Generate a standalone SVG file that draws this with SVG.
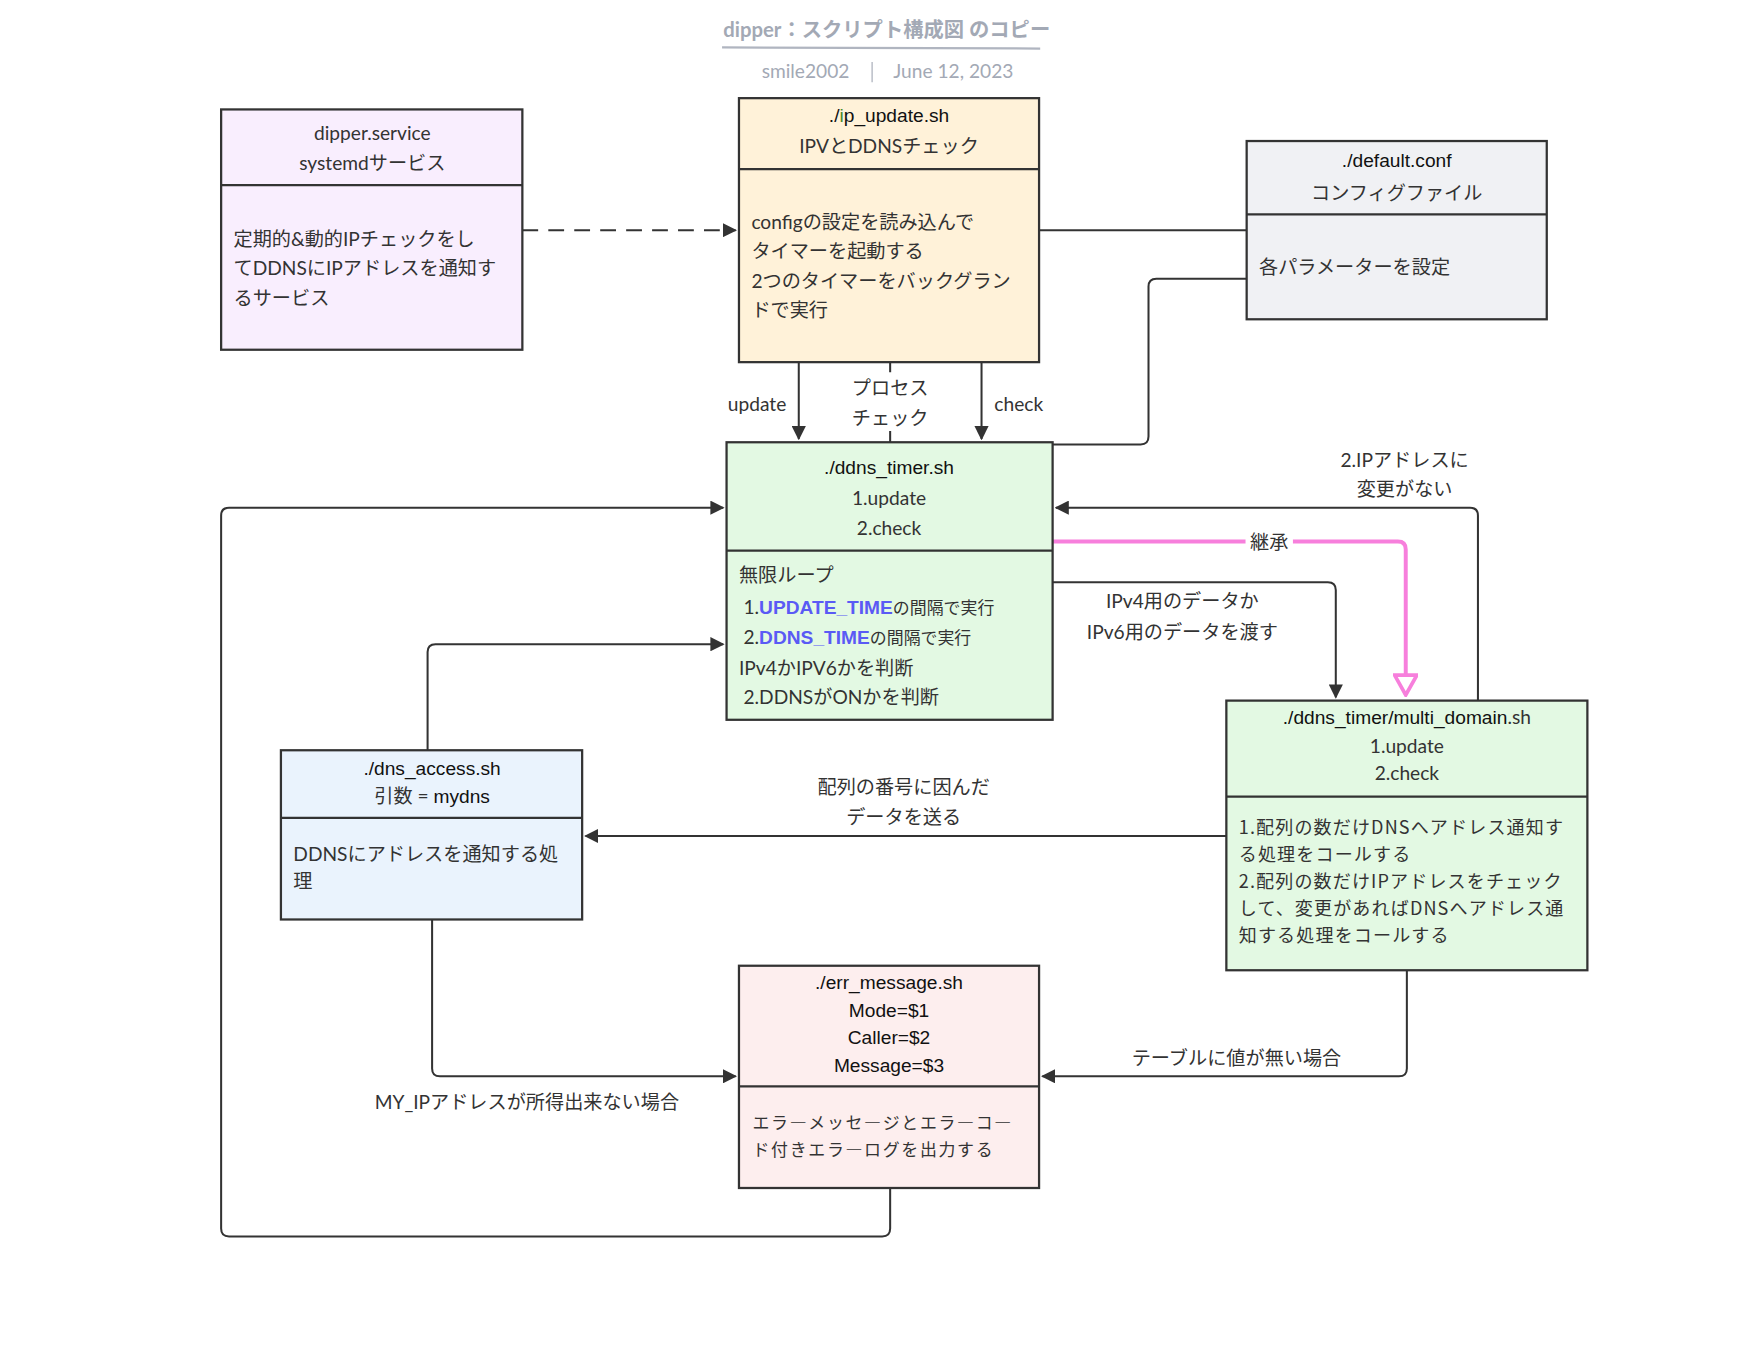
<svg xmlns="http://www.w3.org/2000/svg" width="1760" height="1360" viewBox="0 0 1760 1360">
<style>
text{font-family:Lato,"Noto Sans CJK JP",sans-serif;font-size:17px;fill:#333}
.c{text-anchor:middle}
.h{font-family:"Liberation Sans","Noto Sans CJK JP",sans-serif;fill:#111}
.b{stroke:#333;stroke-width:2}
.l{fill:none;stroke:#333;stroke-width:1.8}
.bl{fill:#5a5af5;font-weight:bold;font-family:"Liberation Sans",sans-serif}
.s{font-size:15px;font-family:"Noto Sans CJK JP",sans-serif}
</style>
<defs>
<marker id="a" viewBox="0 0 10 10" refX="9" refY="5" markerWidth="7" markerHeight="7" orient="auto"><path d="M0,0L10,5L0,10z" fill="#333"/></marker>
<marker id="t" viewBox="0 0 20 20" refX="10" refY="18" markerWidth="22" markerHeight="22" markerUnits="userSpaceOnUse" orient="0"><path d="M1,2L19,2L10,18z" fill="#fff" stroke="#f77fdc" stroke-width="3"/></marker>
</defs>
<rect width="1760" height="1360" fill="#fff"/>
<g transform="scale(1.1282)">
<g id="title">
<text x="786" y="33" class="c" style="fill:#a3a9b5;font-weight:bold;font-size:18px">dipper：スクリプト構成図 のコピー</text>
<line x1="640" y1="42" x2="922" y2="43" stroke="#b0b5c0" stroke-width="2"/>
<text x="714" y="69" class="c" style="fill:#a3a9b5">smile2002</text>
<line x1="773" y1="55" x2="773" y2="73" stroke="#a3a9b5"/>
<text x="845" y="69" class="c" style="fill:#a3a9b5">June 12, 2023</text>
</g>
<g id="connectors">
<path class="l" d="M463,204H652" stroke-dasharray="14,9" marker-end="url(#a)"/>
<path class="l" d="M921,204H1105"/>
<path class="l" d="M1105,247H1025Q1018,247 1018,254V387Q1018,394 1011,394H933"/>
<path class="l" d="M708,321V389" marker-end="url(#a)"/>
<path class="l" d="M789,321V330M789,382V392"/>
<path class="l" d="M870,321V389" marker-end="url(#a)"/>
<path class="l" d="M1310,621V457Q1310,450 1303,450H936" marker-end="url(#a)"/>
<path d="M933,480H1239Q1246,480 1246,487V616" fill="none" stroke="#f77fdc" stroke-width="3.5" marker-end="url(#t)"/>
<path class="l" d="M933,516H1177Q1184,516 1184,523V618" marker-end="url(#a)"/>
<path class="l" d="M1087,741H519" marker-end="url(#a)"/>
<path class="l" d="M379,665V578Q379,571 386,571H641" marker-end="url(#a)"/>
<path class="l" d="M383,815V947Q383,954 390,954H652" marker-end="url(#a)"/>
<path class="l" d="M1247,860V947Q1247,954 1240,954H924" marker-end="url(#a)"/>
<path class="l" d="M789,1053V1089Q789,1096 782,1096H203Q196,1096 196,1089V457Q196,450 203,450H641" marker-end="url(#a)"/>
<text x="671" y="364" class="c">update</text>
<text x="789" y="350" class="c">プロセス</text>
<text x="789" y="377" class="c">チェック</text>
<text x="903" y="364" class="c">check</text>
<text x="1245" y="414" class="c">2.IPアドレスに</text>
<text x="1245" y="440" class="c">変更がない</text>
<rect x="1104" y="470" width="42" height="20" fill="#fff"/>
<text x="1125" y="487" class="c">継承</text>
<text x="1048" y="539" class="c">IPv4用のデータか</text>
<text x="1048" y="566" class="c">IPv6用のデータを渡す</text>
<text x="801" y="704" class="c">配列の番号に因んだ</text>
<text x="801" y="730" class="c">データを送る</text>
<text x="467" y="983" class="c">MY_IPアドレスが所得出来ない場合</text>
<text x="1096" y="944" class="c">テーブルに値が無い場合</text>
</g>
<g id="dipper_service">
<rect x="196" y="97" width="267" height="213" fill="#f9eefe" class="b"/>
<line x1="196" y1="164" x2="463" y2="164" class="b"/>
<text x="330" y="124" class="c">dipper.service</text>
<text x="330" y="151" class="c">systemdサービス</text>
<text x="207" y="218">定期的&amp;動的IPチェックをし</text>
<text x="207" y="244">てDDNSにIPアドレスを通知す</text>
<text x="207" y="270">るサービス</text>
</g>
<g id="ip_update">
<rect x="655" y="87" width="266" height="234" fill="#fff2d9" class="b"/>
<line x1="655" y1="150" x2="921" y2="150" class="b"/>
<text x="788" y="108" class="c h">./<tspan style="fill:#4a8a2a">i</tspan>p_update.sh</text>
<text x="788" y="136" class="c">IPVとDDNSチェック</text>
<text x="666" y="203">configの設定を読み込んで</text>
<text x="666" y="229">タイマーを起動する</text>
<text x="666" y="255">2つのタイマーをバックグラン</text>
<text x="666" y="281">ドで実行</text>
</g>
<g id="default_conf">
<rect x="1105" y="125" width="266" height="158" fill="#f0f1f4" class="b"/>
<line x1="1105" y1="190" x2="1371" y2="190" class="b"/>
<text x="1238" y="148" class="c h">./default.conf</text>
<text x="1238" y="177" class="c">コンフィグファイル</text>
<text x="1116" y="243">各パラメーターを設定</text>
</g>
<g id="ddns_timer">
<rect x="644" y="392" width="289" height="246" fill="#e3f9e3" class="b"/>
<line x1="644" y1="488" x2="933" y2="488" class="b"/>
<text x="788" y="420" class="c h">./ddns_timer.sh</text>
<text x="788" y="448" class="c">1.update</text>
<text x="788" y="474" class="c">2.check</text>
<text x="655" y="516">無限ループ</text>
<text x="659" y="544">1.<tspan class="bl">UPDATE_TIME</tspan><tspan class="s">の間隔で実行</tspan></text>
<text x="659" y="571">2.<tspan class="bl">DDNS_TIME</tspan><tspan class="s">の間隔で実行</tspan></text>
<text x="655" y="598">IPv4かIPV6かを判断</text>
<text x="659" y="624">2.DDNSがONかを判断</text>
</g>
<g id="multi_domain">
<rect x="1087" y="621" width="320" height="239" fill="#e3f9e3" class="b"/>
<line x1="1087" y1="706" x2="1407" y2="706" class="b"/>
<text x="1247" y="642" class="c h">./ddns_timer/multi_domain<tspan style="fill:#333;font-family:Lato">.sh</tspan></text>
<text x="1247" y="667" class="c">1.update</text>
<text x="1247" y="691" class="c">2.check</text>
<text x="1098" y="739" class="s" style="font-size:16px;letter-spacing:1px">1.配列の数だけDNSへアドレス通知す</text>
<text x="1098" y="763" class="s" style="font-size:16px;letter-spacing:1px">る処理をコールする</text>
<text x="1098" y="787" class="s" style="font-size:16px;letter-spacing:1px">2.配列の数だけIPアドレスをチェック</text>
<text x="1098" y="811" class="s" style="font-size:16px;letter-spacing:1px">して、変更があればDNSへアドレス通</text>
<text x="1098" y="835" class="s" style="font-size:16px;letter-spacing:1px">知する処理をコールする</text>
</g>
<g id="dns_access">
<rect x="249" y="665" width="267" height="150" fill="#eaf3fd" class="b"/>
<line x1="249" y1="725" x2="516" y2="725" class="b"/>
<text x="383" y="687" class="c h">./dns_access.sh</text>
<text x="383" y="712" class="c">引数 = <tspan class="h">mydns</tspan></text>
<text x="260" y="763">DDNSにアドレスを通知する処</text>
<text x="260" y="787">理</text>
</g>
<g id="err_message">
<rect x="655" y="856" width="266" height="197" fill="#fdeeee" class="b"/>
<line x1="655" y1="963" x2="921" y2="963" class="b"/>
<text x="788" y="877" class="c h">./err_message.sh</text>
<text x="788" y="901" class="c h">Mode=$1</text>
<text x="788" y="925" class="c h">Caller=$2</text>
<text x="788" y="950" class="c h">Message=$3</text>
<text x="667" y="1001" class="s" style="letter-spacing:1.5px">エラ―メッセ―ジとエラ―コ―</text>
<text x="667" y="1025" class="s" style="letter-spacing:1.5px">ド付きエラ―ログを出力する</text>
</g>
</g>
</svg>
